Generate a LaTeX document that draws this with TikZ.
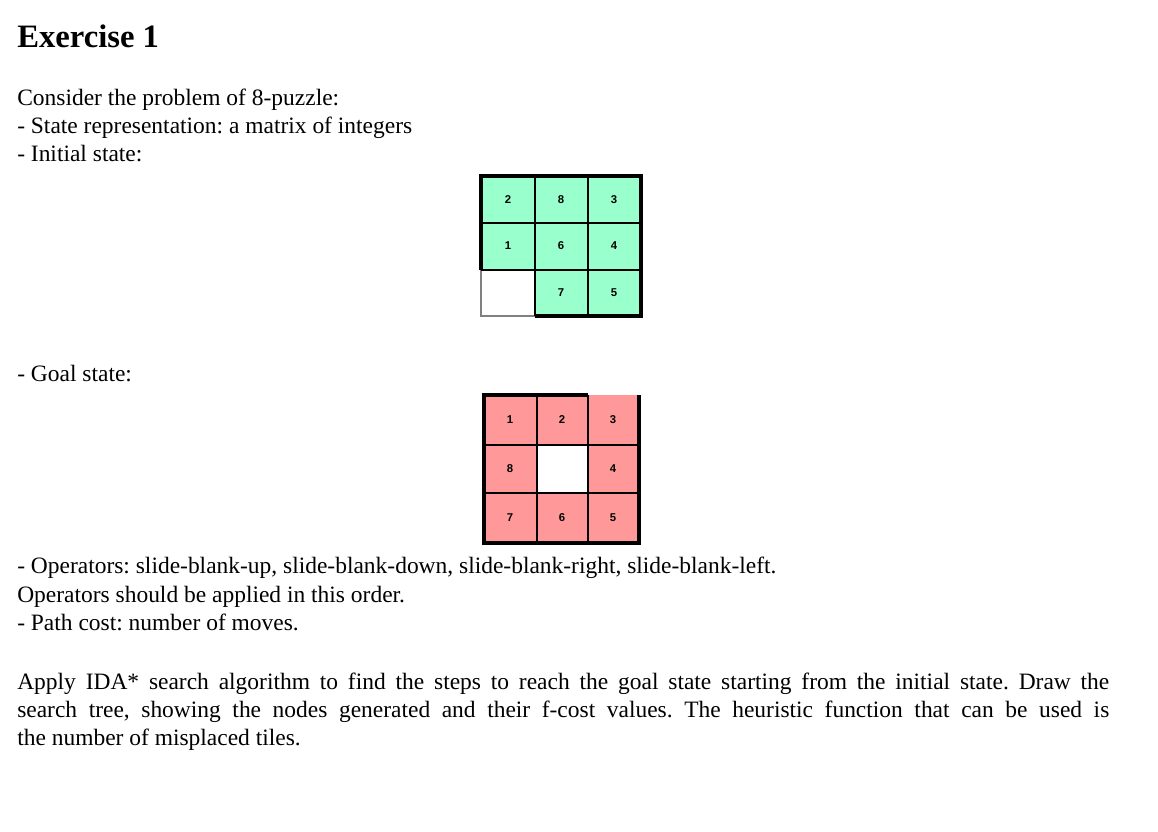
\documentclass[tikz,border=0pt]{standalone}
\usepackage{fontspec}
\setmainfont{Liberation Serif}
\newfontfamily\digfont{Liberation Sans}
\frenchspacing
\begin{document}
\begin{tikzpicture}[x=0.75pt,y=-0.75pt,
  txt/.style={anchor=base west,inner sep=0pt,font=\fontsize{17.6}{21}\selectfont},
  dig/.style={font=\digfont\bfseries\fontsize{8.5}{9}\selectfont,inner sep=0pt},
  thin/.style={line width=0.8pt},
  thk/.style={line width=2.4pt}]
\useasboundingbox (0,0) rectangle (1158,832);
\node[anchor=base west,inner sep=0pt,font=\bfseries\fontsize{24.5}{28}\selectfont] (title) at (17,47) {Exercise 1};
\node[txt] (l1) at (17,105) {Consider the problem of 8-puzzle:};
\node[txt] (l2) at (17,133) {- State representation: a matrix of integers};
\node[txt] (l3) at (17,161) {- Initial state:};
\node[txt] (l4) at (17,381) {- Goal state:};
\node[txt] (l5) at (17,573) {- Operators: slide-blank-up, slide-blank-down, slide-blank-right, slide-blank-left.};
\node[txt] (l6) at (17,602) {Operators should be applied in this order.};
\node[txt] (l7) at (17,630) {- Path cost: number of moves.};
\node[txt] (l8) at (17,689) {\makebox[819pt][s]{Apply IDA* search algorithm to find the steps to reach the goal state starting from the initial state. Draw the}};
\node[txt] (l9) at (17,717) {\makebox[819pt][s]{search tree, showing the nodes generated and their f-cost values. The heuristic function that can be used is}};
\node[txt] (l10) at (17,745) {the number of misplaced tiles.};
% green grid
\definecolor{gr}{RGB}{153,255,204}
\definecolor{rd}{RGB}{255,153,153}
\fill[gr] (481,176) rectangle (641,316);
\fill[white] (481,270) rectangle (535,316);
\draw[thin,gray] (481,270) rectangle (535,316);
\draw[thin] (481,223) -- (641,223) (481,270) -- (641,270) (535,176) -- (535,316) (588,176) -- (588,316);
\draw[thk] (481,270) -- (481,176) -- (641,176) -- (641,316) -- (535,316);
\node[dig] (g1) at (508,200) {2};
\node[dig] (g2) at (561,200) {8};
\node[dig] (g3) at (614,200) {3};
\node[dig] (g4) at (508,246) {1};
\node[dig] (g5) at (561,246) {6};
\node[dig] (g6) at (614,246) {4};
\node[dig] (g8) at (561,293) {7};
\node[dig] (g9) at (614,293) {5};
% red grid
\fill[rd] (484,395) rectangle (639,543);
\fill[white] (537,445) rectangle (588,493);
\draw[thin] (484,445) -- (639,445) (484,493) -- (639,493) (537,395) -- (537,543) (588,395) -- (588,543);
\draw[thk] (588,395) -- (484,395) -- (484,543) -- (639,543) -- (639,395);
\node[dig] (r1) at (510,420) {1};
\node[dig] (r2) at (562,420) {2};
\node[dig] (r3) at (613,420) {3};
\node[dig] (r4) at (510,469) {8};
\node[dig] (r6) at (613,469) {4};
\node[dig] (r7) at (510,518) {7};
\node[dig] (r8) at (562,518) {6};
\node[dig] (r9) at (613,518) {5};
\end{tikzpicture}
\end{document}
